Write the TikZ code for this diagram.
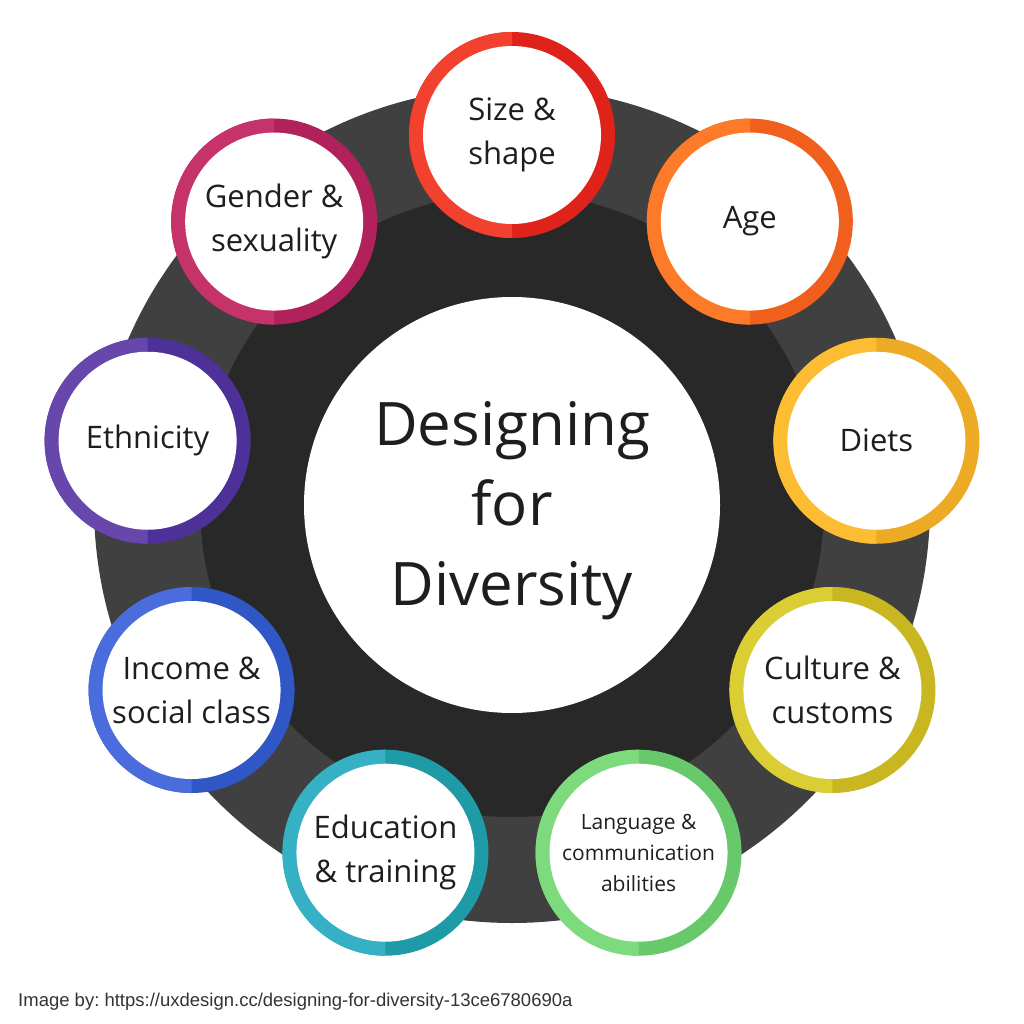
\documentclass[tikz,border=0pt]{standalone}
\usepackage{fontspec}
\setmainfont{Open Sans}
\newfontfamily\capfont{Liberation Sans}
\frenchspacing
\definecolor{ringgray}{HTML}{404040}
\definecolor{ringdark}{HTML}{282828}
\definecolor{txt}{HTML}{1E1E1E}
\definecolor{capgray}{HTML}{333333}
\definecolor{sizeL}{HTML}{F2412E}\definecolor{sizeR}{HTML}{E0231A}
\definecolor{ageL}{HTML}{FD7A29}\definecolor{ageR}{HTML}{F0601C}
\definecolor{dietL}{HTML}{FDBD33}\definecolor{dietR}{HTML}{EDAA24}
\definecolor{cultL}{HTML}{DACE34}\definecolor{cultR}{HTML}{C9B722}
\definecolor{langL}{HTML}{7DDB7D}\definecolor{langR}{HTML}{68C96A}
\definecolor{eduL}{HTML}{36B0C4}\definecolor{eduR}{HTML}{1E9BA7}
\definecolor{incL}{HTML}{4A6CDC}\definecolor{incR}{HTML}{2F57C5}
\definecolor{ethL}{HTML}{6847AC}\definecolor{ethR}{HTML}{4D3198}
\definecolor{genL}{HTML}{C6336B}\definecolor{genR}{HTML}{B1215B}
\tikzset{
  hubtext/.style={align=center, text=txt, inner sep=0, font=\fontsize{60}{80}\selectfont},
  lbl/.style={align=center, text=txt, inner sep=0, font=\fontsize{31}{44}\selectfont},
  lblsmall/.style={align=center, text=txt, inner sep=0, font=\fontsize{21}{31}\selectfont},
  whitedisc/.style={circle, fill=white, inner sep=0, minimum size=#1},
}
\begin{document}
\begin{tikzpicture}[x=1pt,y=-1pt]
\useasboundingbox (0,0) rectangle (1024,1024);
\fill[white] (0,0) rectangle (1024,1024);
\coordinate (C) at (512,505);
\fill[ringgray] (C) circle (418);
\fill[ringdark] (C) circle (312);
\node[whitedisc=416pt] (hub) at (C) {};
\node[hubtext] (title) at (512,511) {Designing\\for\\Diversity};
\foreach \ang/\nm/\colL/\colR/\fs/\txt in {
  90/size/sizeL/sizeR/lbl/{Size \&\\shape},
  50/age/ageL/ageR/lbl/{Age},
  10/diet/dietL/dietR/lbl/{Diets},
  -30/cult/cultL/cultR/lbl/{Culture \&\\customs},
  -70/lang/langL/langR/lblsmall/{Language \&\\communication\\abilities},
  -110/edu/eduL/eduR/lbl/{Education\\\& training},
  -150/inc/incL/incR/lbl/{Income \&\\social class},
  170/eth/ethL/ethR/lbl/{Ethnicity},
  130/gen/genL/genR/lbl/{Gender \&\\sexuality}}{
  \path (C) ++(-\ang:370) coordinate (\nm);
  \fill[\colR] (\nm) circle (103);
  \fill[\colL] (\nm) ++(0,-103) arc (270:90:103) -- cycle;
  \node[whitedisc=178pt] (\nm-in) at (\nm) {};
  \node[\fs] (\nm-t) at (\nm) {\txt};
}
\node[anchor=base west, inner sep=0, text=capgray, font=\capfont\fontsize{18.5}{22}\selectfont] (cap) at (18,1006) {Image by: https://uxdesign.cc/designing-for-diversity-13ce6780690a};
\end{tikzpicture}
\end{document}
